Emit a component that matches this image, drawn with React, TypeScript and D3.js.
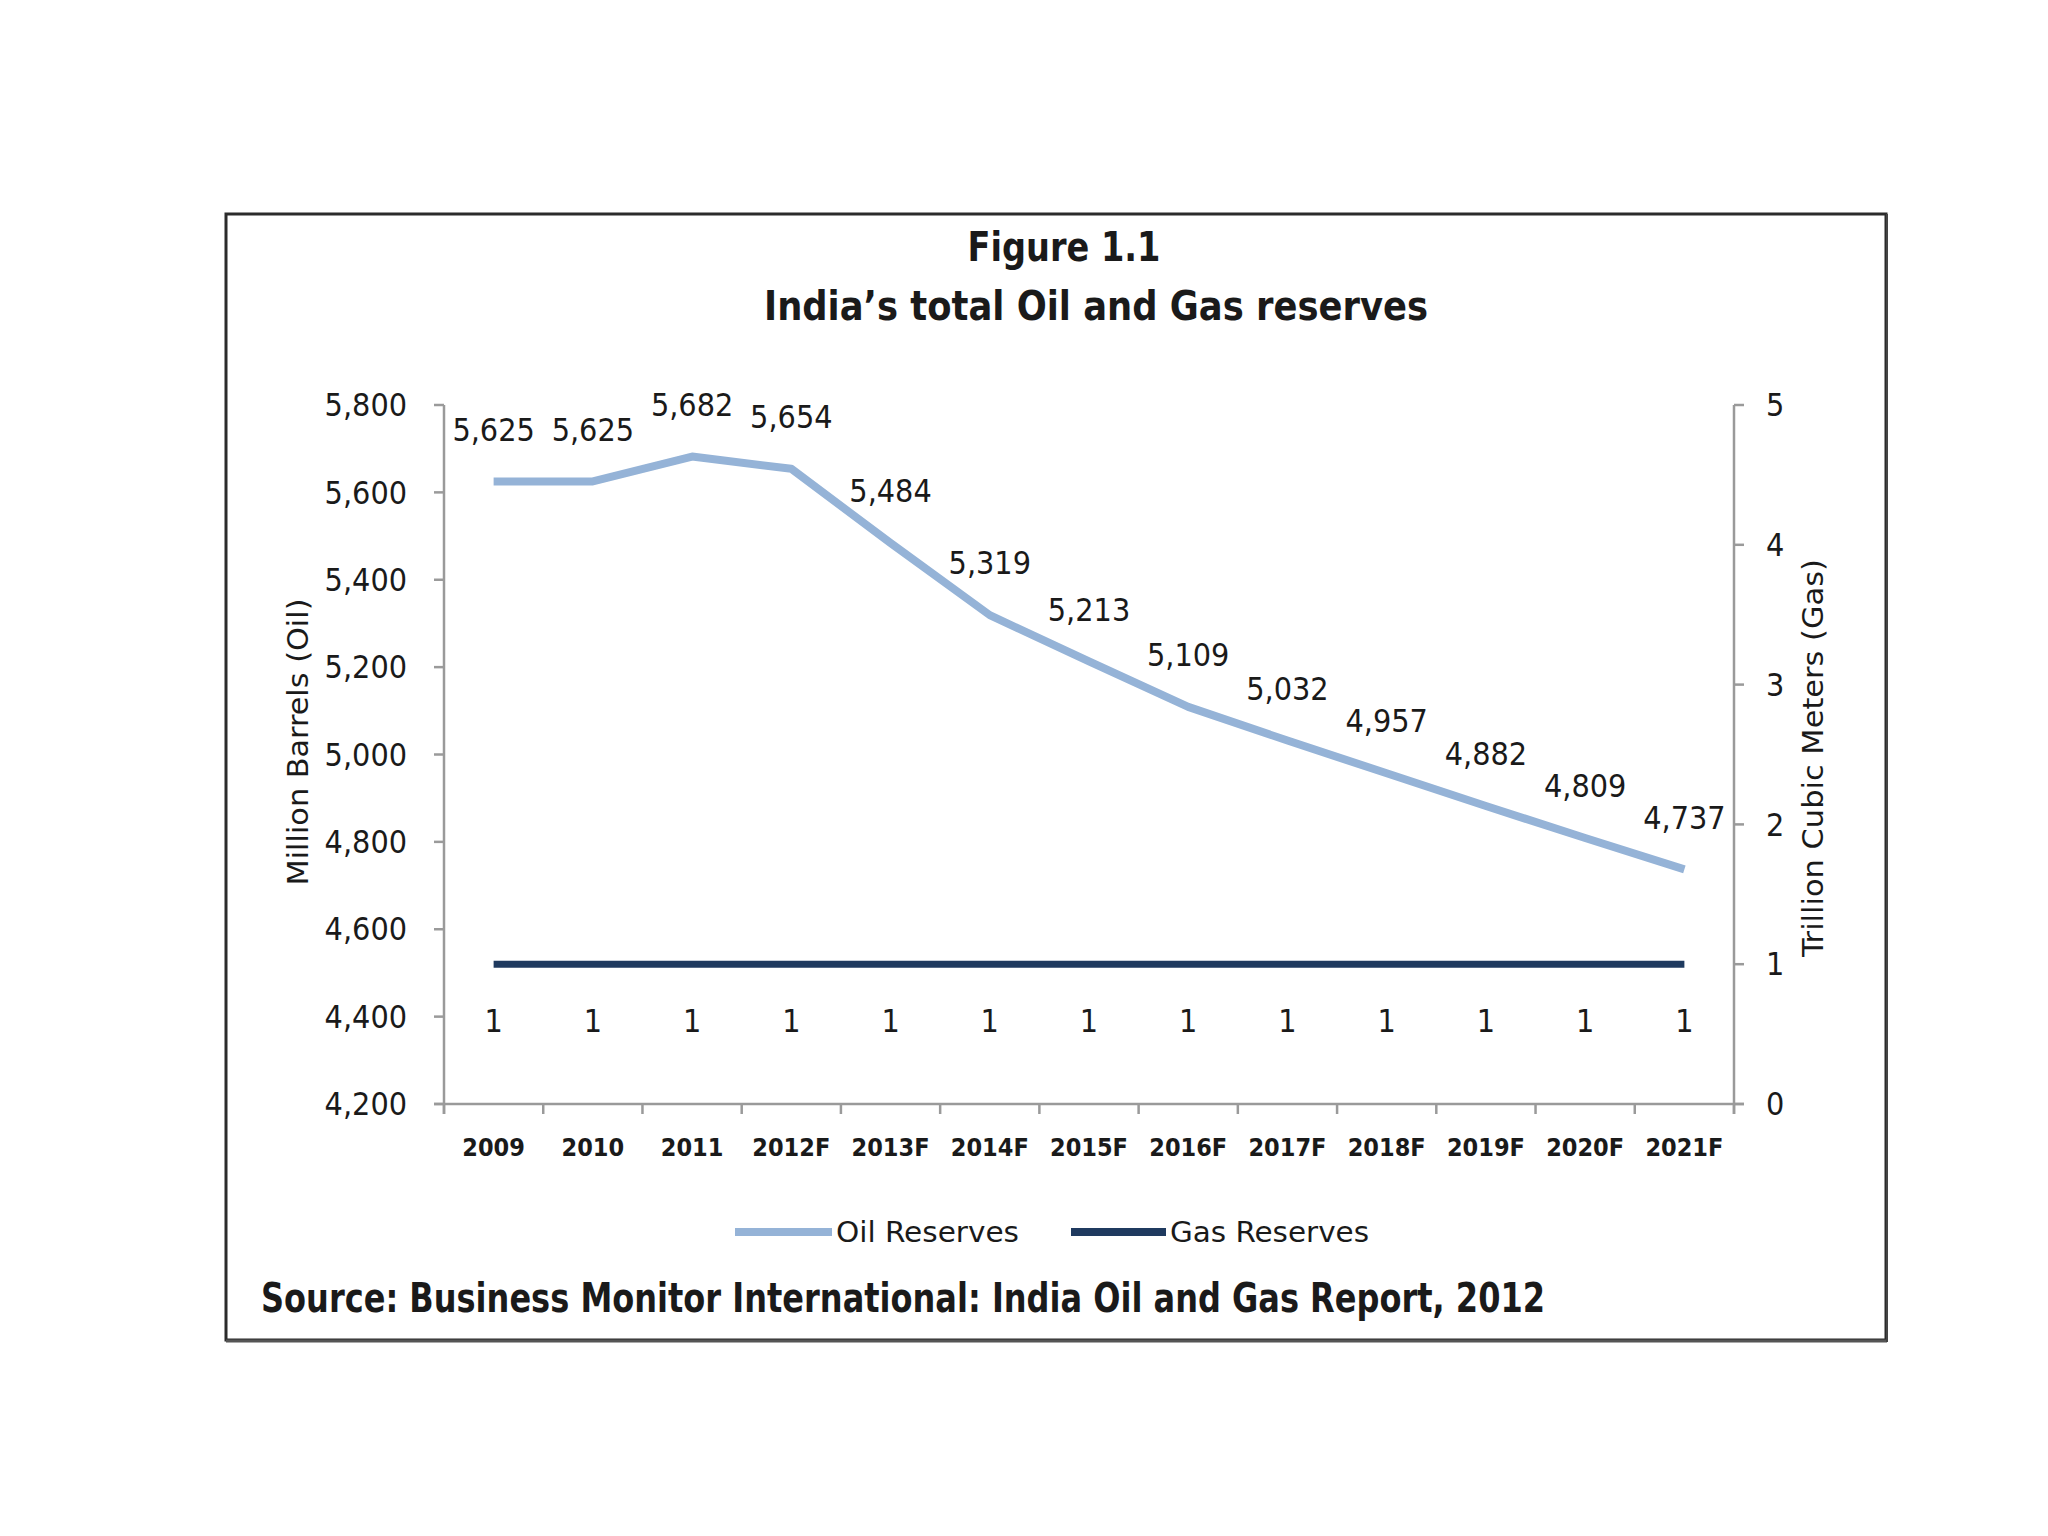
import * as d3 from 'd3';

// Reserve series (oil in million barrels, gas in trillion cubic meters)
const years = ['2009', '2010', '2011', '2012F', '2013F', '2014F', '2015F', '2016F', '2017F', '2018F', '2019F', '2020F', '2021F'];
const oilReserves = [5625, 5625, 5682, 5654, 5484, 5319, 5213, 5109, 5032, 4957, 4882, 4809, 4737];
const gasReserves = [1, 1, 1, 1, 1, 1, 1, 1, 1, 1, 1, 1, 1];
const oilDomain = [4200, 5800];
const gasDomain = [0, 5];

const W = 2048;
const H = 1536;
const FONT = '"DejaVu Sans Condensed", "Liberation Sans Narrow", "DejaVu Sans", sans-serif';
const OIL_COLOR = '#95b3d7';
const GAS_COLOR = '#1f3a5f';
const AXIS_COLOR = '#9a9a9a';
const TEXT_COLOR = '#1a1a1a';

export default function App() {
  const plot = { left: 444, right: 1734, top: 405, bottom: 1104 };

  const x = d3.scaleBand<string>().domain(years).range([plot.left, plot.right]);
  const cx = (c: string) => (x(c) ?? 0) + x.bandwidth() / 2;
  const yOil = d3.scaleLinear().domain(oilDomain).range([plot.bottom, plot.top]);
  const yGas = d3.scaleLinear().domain(gasDomain).range([plot.bottom, plot.top]);

  const oilLine = d3
    .line<number>()
    .x((_, i) => cx(years[i]))
    .y((d) => yOil(d));
  const gasLine = d3
    .line<number>()
    .x((_, i) => cx(years[i]))
    .y((d) => yGas(d));

  const fmt = d3.format(',');
  const boundaries = d3.range(years.length + 1).map((i) => plot.left + i * x.bandwidth());

  return (
    <svg
      width={W}
      height={H}
      style={{ position: 'absolute', left: 0, top: 0, background: '#fff' }}
      fontFamily={FONT}
    >
      <rect x={0} y={0} width={W} height={H} fill="#fff" />

      {/* frame with a slightly heavier lower/right edge */}
      <rect x={226} y={214} width={1660} height={1126} fill="#fff" stroke="#2b2b2b" strokeWidth={3} />
      <line x1={226} y1={1341} x2={1887} y2={1341} stroke="#555" strokeWidth={3} />
      <line x1={1887} y1={214} x2={1887} y2={1342} stroke="#444" strokeWidth={2} />

      {/* titles */}
      <text
        x={1064}
        y={261}
        textAnchor="middle"
        fontSize={40}
        fontWeight={600}
        fill={TEXT_COLOR}
        textLength={193}
        lengthAdjust="spacingAndGlyphs"
      >
        Figure 1.1
      </text>
      <text
        x={1096}
        y={320}
        textAnchor="middle"
        fontSize={40}
        fontWeight={600}
        fill={TEXT_COLOR}
        textLength={664}
        lengthAdjust="spacingAndGlyphs"
      >
        India’s total Oil and Gas reserves
      </text>

      {/* axes */}
      <line x1={plot.left} y1={plot.top} x2={plot.left} y2={plot.bottom + 10} stroke={AXIS_COLOR} strokeWidth={2.5} />
      <line x1={plot.right} y1={plot.top} x2={plot.right} y2={plot.bottom + 10} stroke={AXIS_COLOR} strokeWidth={2.5} />
      <line x1={plot.left - 10} y1={plot.bottom} x2={plot.right + 10} y2={plot.bottom} stroke={AXIS_COLOR} strokeWidth={2.5} />

      {yOil.ticks(8).map((t) => (
        <g key={`l${t}`}>
          <line x1={plot.left - 10} x2={plot.left} y1={yOil(t)} y2={yOil(t)} stroke={AXIS_COLOR} strokeWidth={2.5} />
          <text x={407} y={yOil(t)} dy="0.35em" textAnchor="end" fontSize={32} fill={TEXT_COLOR}>
            {fmt(t)}
          </text>
        </g>
      ))}

      {yGas.ticks(5).map((t) => (
        <g key={`r${t}`}>
          <line x1={plot.right} x2={plot.right + 10} y1={yGas(t)} y2={yGas(t)} stroke={AXIS_COLOR} strokeWidth={2.5} />
          <text x={1766} y={yGas(t)} dy="0.35em" textAnchor="start" fontSize={32} fill={TEXT_COLOR}>
            {t}
          </text>
        </g>
      ))}

      {boundaries.map((b, i) => (
        <line key={`xb${i}`} x1={b} x2={b} y1={plot.bottom} y2={plot.bottom + 10} stroke={AXIS_COLOR} strokeWidth={2.5} />
      ))}
      {years.map((c) => (
        <text key={`xl${c}`} x={cx(c)} y={1147} dy="0.35em" textAnchor="middle" fontSize={25} fontWeight={700} fill={TEXT_COLOR}>
          {c}
        </text>
      ))}

      {/* axis titles */}
      <text
        transform={`translate(298,742) rotate(-90)`}
        textAnchor="middle"
        dy="0.35em"
        fontSize={29}
        fill={TEXT_COLOR}
        textLength={287}
        lengthAdjust="spacingAndGlyphs"
      >
        Million Barrels (Oil)
      </text>
      <text
        transform={`translate(1813,758) rotate(-90)`}
        textAnchor="middle"
        dy="0.35em"
        fontSize={29}
        fill={TEXT_COLOR}
        textLength={398}
        lengthAdjust="spacingAndGlyphs"
      >
        Trillion Cubic Meters (Gas)
      </text>

      {/* series */}
      <path d={oilLine(oilReserves) ?? ''} fill="none" stroke={OIL_COLOR} strokeWidth={8} strokeLinejoin="round" />
      <path d={gasLine(gasReserves) ?? ''} fill="none" stroke={GAS_COLOR} strokeWidth={7} />

      {oilReserves.map((v, i) => (
        <text key={`ov${i}`} x={cx(years[i])} y={yOil(v) - 52} dy="0.35em" textAnchor="middle" fontSize={32} fill={TEXT_COLOR}>
          {fmt(v)}
        </text>
      ))}
      {gasReserves.map((v, i) => (
        <text key={`gv${i}`} x={cx(years[i])} y={yGas(v) + 57} dy="0.35em" textAnchor="middle" fontSize={32} fill={TEXT_COLOR}>
          {v}
        </text>
      ))}

      {/* legend */}
      <line x1={735} x2={832} y1={1232} y2={1232} stroke={OIL_COLOR} strokeWidth={8} />
      <text x={836} y={1232} dy="0.35em" fontSize={29} fill={TEXT_COLOR} textLength={183} lengthAdjust="spacingAndGlyphs">
        Oil Reserves
      </text>
      <line x1={1071} x2={1166} y1={1232} y2={1232} stroke={GAS_COLOR} strokeWidth={8} />
      <text x={1170} y={1232} dy="0.35em" fontSize={29} fill={TEXT_COLOR} textLength={199} lengthAdjust="spacingAndGlyphs">
        Gas Reserves
      </text>

      {/* source note */}
      <text
        x={261}
        y={1298}
        dy="0.35em"
        fontSize={40}
        fontWeight={600}
        fill={TEXT_COLOR}
        textLength={1284}
        lengthAdjust="spacingAndGlyphs"
      >
        Source: Business Monitor International: India Oil and Gas Report, 2012
      </text>
    </svg>
  );
}
